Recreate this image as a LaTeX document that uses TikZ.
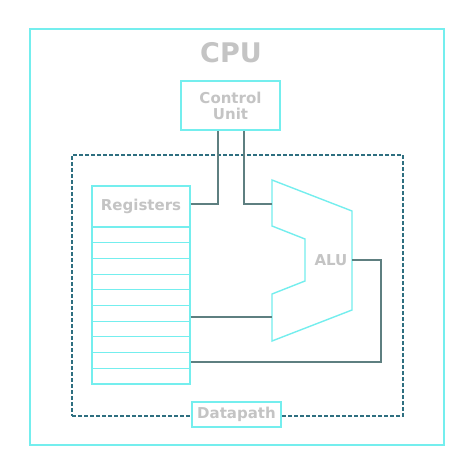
\documentclass[tikz,border=0pt]{standalone}
\usepackage{fontspec}
\setmainfont{DejaVu Sans}
\usetikzlibrary{calc}
\definecolor{cyanline}{HTML}{74EEEE}
\definecolor{dashcol}{HTML}{2E6F80}
\definecolor{conncol}{HTML}{5E7F80}
\definecolor{txtgray}{HTML}{C4C4C4}
\tikzset{
  cyanbox/.style={draw=cyanline, line width=1.4pt, fill=white, inner sep=0pt},
  lbl/.style={text=txtgray, font=\bfseries\fontsize{15}{16}\selectfont, align=center},
  conn/.style={draw=conncol, line width=2pt},
  rowbox/.style={draw=cyanline, line width=1.1pt, minimum width=98pt, minimum height=15.7pt, inner sep=0pt},
}
\begin{document}
\begin{tikzpicture}[x=1pt,y=-1pt]
\useasboundingbox (0,0) rectangle (474,474);
\fill[white] (0,0) rectangle (474,474);
% CPU outer
\node[draw=cyanline, line width=2.2pt, minimum width=414pt, minimum height=416pt, inner sep=0pt] (cpu) at (237,237) {};
\node[text=txtgray, font=\bfseries\fontsize{27}{30}\selectfont] (cputxt) at (231,52.5) {CPU};
% datapath dashed
\node[draw=dashcol, line width=2pt, dash pattern=on 4pt off 2pt, minimum width=331pt, minimum height=261pt, inner sep=0pt] (dp) at (237.5,285.5) {};
% control unit
\node[cyanbox, minimum width=99pt, minimum height=49pt, lbl] (cu) at (230.5,105.5) {Control\\Unit};
% registers
\node[rowbox, minimum height=41pt, lbl] (reghead) at (141,206.5) {Registers};
\foreach \i in {1,...,10} {
  \node[rowbox] (row\i) at (141,{227+15.7*(\i-0.5)}) {};
}
% ALU
\coordinate (a1) at (272,180);
\coordinate (a2) at (352,211);
\coordinate (a3) at (352,310);
\coordinate (a4) at (272,341);
\coordinate (a5) at (272,294);
\coordinate (a6) at (305,281);
\coordinate (a7) at (305,239);
\coordinate (a8) at (272,226);
\draw[draw=cyanline, line width=1.4pt, line join=miter] (a1) -- (a2) -- (a3) -- (a4) -- (a5) -- (a6) -- (a7) -- (a8) -- cycle;
\node[lbl] (alu) at (331,260) {ALU};
\coordinate (aluin1) at (272,204);
\coordinate (aluin2) at (272,317);
\coordinate (aluout) at (352,260);
\coordinate (bend) at (381,260);
% datapath label
\node[cyanbox, minimum width=89pt, minimum height=25pt, lbl] (dplbl) at (236.5,414.5) {Datapath};
% connectors
\draw[conn] (reghead.east |- 0,204) -| (cu.south -| 218,0);
\draw[conn] (aluin1) -| (cu.south -| 244,0);
\draw[conn] (row6.east |- aluin2) -- (aluin2);
\draw[conn] (aluout) -- (bend) |- (row9.east |- 0,362);
\end{tikzpicture}
\end{document}
